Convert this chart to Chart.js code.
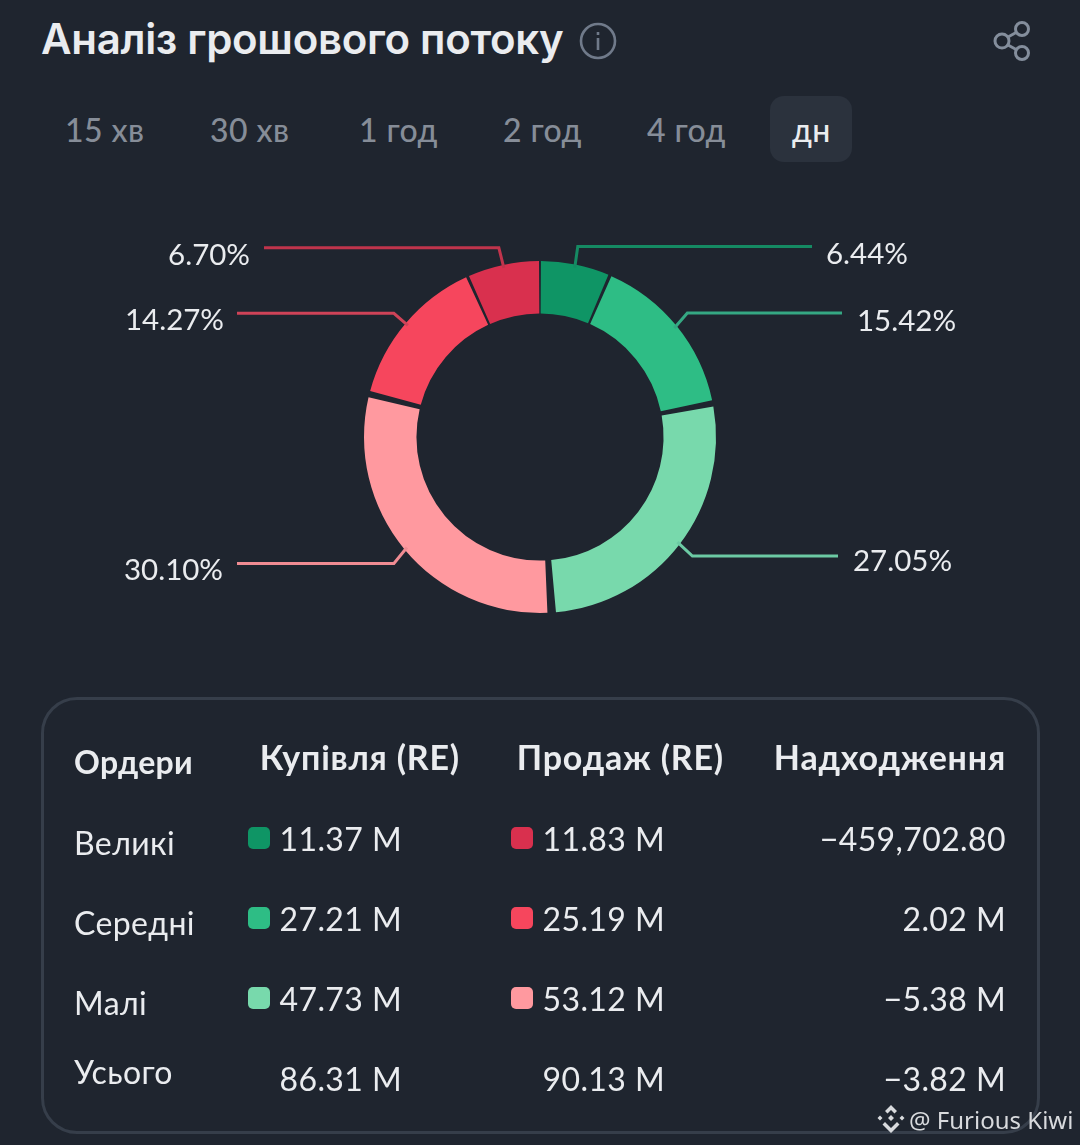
<!DOCTYPE html>
<html lang="uk">
<head>
<meta charset="utf-8">
<title>Аналіз грошового потоку</title>
<script src="https://cdn.jsdelivr.net/npm/chart.js@4/dist/chart.umd.min.js"></script>
<style>
  html, body { margin: 0; padding: 0; background: #1f252f; }
  #page { position: relative; width: 1080px; height: 1145px; overflow: hidden; background: #1f252f; color: #eaecef; font-family: Lato, "Noto Sans", sans-serif; }
  #page > * { position: absolute; }
  .t { position: absolute; white-space: nowrap; line-height: 1; }
  #title { left: 41px; top: 17px; font: 600 42px Inter, sans-serif; letter-spacing: -0.3px; line-height: 44px; }
  .tab { top: 113px; font-size: 32px; color: #868d98; font-weight: 500; letter-spacing: 0.4px; line-height: 34px; white-space: nowrap; }
  #activeTab { left: 770px; top: 96px; width: 82px; height: 66px; border-radius: 14px; background: #2b323d; }
  #chartBox { left: 0; top: 190px; width: 1080px; height: 494px; }
  #tableBox { left: 41px; top: 697px; width: 993px; height: 431px; border: 3px solid #363e4a; border-radius: 36px; }
  #rows, #tabs { left: 0; top: 0; width: 1080px; height: 1145px; }
  .swatch { position: absolute; width: 22px; height: 22px; border-radius: 5px; }
  .head { font-size: 34px; font-weight: 700; letter-spacing: 0.8px; }
  .first { font-size: 32px; font-weight: 700; letter-spacing: 0.3px; }
  .cell { font-size: 32px; letter-spacing: 0.4px; }
  #mark { left: 909px; top: 1103px; font: 24px "Noto Sans", sans-serif; color: #d8dadd; white-space: nowrap; }
</style>
</head>
<body>
<div id="page">
  <div id="title">Аналіз грошового потоку</div>
  <svg style="left:578px;top:21px" width="40" height="40" viewBox="0 0 40 40" fill="none" stroke="#707a8a" stroke-width="2.6">
    <circle cx="20" cy="20" r="17"/><path d="M20 17v12M20 11v3"/>
  </svg>
  <svg style="left:990px;top:20px" width="44" height="42" viewBox="0 0 44 42" fill="none" stroke="#848e9c" stroke-width="3">
    <circle cx="12" cy="21" r="7"/><circle cx="32" cy="9" r="6.5"/><circle cx="32" cy="33" r="6.5"/><path d="M18 17l9-5M18 25l9 5"/>
  </svg>
  <div id="activeTab"></div>
  <div id="tabs"></div>
  <div id="chartBox"><canvas id="flowChart" width="1080" height="494"></canvas></div>
  <div id="tableBox"></div>
  <div id="rows"></div>
  <svg style="left:876px;top:1104px" width="30" height="30" viewBox="0 0 30 30" fill="#d8dadd">
    <path d="M15 1l6 6-2.5 2.5L15 6l-3.500 3.500L9 7zM4 11.500L6.500 14 4 16.500 1.500 14zM26 11.500L28.500 14 26 16.500 23.500 14zM15 11l3 3-3 3-3-3zM9 18l6 6 6-6 2.500 2.500L15 29l-8.500-8.500z"/>
  </svg>
  <div id="mark">@ Furious Kiwi</div>
</div>
<script>
const tabLabels = ['15 хв', '30 хв', '1 год', '2 год', '4 год', 'дн'];

// slices clockwise from the top
const sliceLabels = ['Великі купівля', 'Середні купівля', 'Малі купівля', 'Малі продаж', 'Середні продаж', 'Великі продаж'];
const sliceValues = [6.44, 15.42, 27.05, 30.10, 14.27, 6.70];
const sliceText = ['6.44%', '15.42%', '27.05%', '30.10%', '14.27%', '6.70%'];

const orderNames = ['Великі', 'Середні', 'Малі', 'Усього'];
const buyValues = ['11.37 M', '27.21 M', '47.73 M', '86.31 M'];
const sellValues = ['11.83 M', '25.19 M', '53.12 M', '90.13 M'];
const inflowValues = ['−459,702.80', '2.02 M', '−5.38 M', '−3.82 M'];
const headers = ['Ордери', 'Купівля (RE)', 'Продаж (RE)', 'Надходження'];

const sliceColors = ['#0f9565', '#2ebd85', '#78d9ac', '#ff999f', '#f6465d', '#d9304e'];
const lineColors = ['#158a63', '#35a883', '#6ccaa4', '#f08c93', '#cf4358', '#c0344c'];

// leader line shape per slice: elbow offset from the arc, end x, label spot
const callouts = [
  { dx: 3, dy: -21, endX: 812, labelX: 826, labelY: 64, align: 'left' },
  { dx: 13, dy: -15, endX: 842, labelX: 857, labelY: 131, align: 'left' },
  { dx: 15, dy: 14, endX: 838, labelX: 853, labelY: 371, align: 'left' },
  { dx: -13, dy: 16, endX: 237, labelX: 223, labelY: 380, align: 'right' },
  { dx: -14, dy: -12, endX: 237, labelX: 224, labelY: 130, align: 'right' },
  { dx: -5, dy: -20, endX: 264, labelX: 250, labelY: 65, align: 'right' }
];

const tabX = [65, 210, 359, 503, 647, 792];
tabLabels.forEach((label, i) => {
  const el = document.createElement('div');
  el.className = 'tab';
  el.style.position = 'absolute';
  el.style.left = tabX[i] + 'px';
  el.textContent = label;
  if (label === 'дн') el.style.color = '#eaecef';
  document.getElementById('tabs').appendChild(el);
});

function addText(cls, text, pos) {
  const el = document.createElement('div');
  el.className = 't ' + cls;
  el.textContent = text;
  Object.keys(pos).forEach(k => { el.style[k] = pos[k] + 'px'; });
  document.getElementById('rows').appendChild(el);
}

addText('first', headers[0], { left: 74, top: 746 });
addText('head', headers[1], { right: 620, top: 740 });
addText('head', headers[2], { right: 356, top: 740 });
addText('head', headers[3], { right: 74, top: 740 });

const nameTops = [827, 907, 987, 1056];
const rowTops = [823, 903, 983, 1063];
orderNames.forEach((name, i) => {
  addText('cell', name, { left: 74, top: nameTops[i] });
  addText('cell', buyValues[i], { right: 678, top: rowTops[i] });
  addText('cell', sellValues[i], { right: 415, top: rowTops[i] });
  addText('cell', inflowValues[i], { right: 74, top: rowTops[i] });
  if (i < 3) {
    const buy = document.createElement('div');
    buy.className = 'swatch';
    buy.style.cssText = 'left:248px;top:' + (rowTops[i] + 4) + 'px;background:' + sliceColors[i];
    document.getElementById('rows').appendChild(buy);
    const sell = document.createElement('div');
    sell.className = 'swatch';
    sell.style.cssText = 'left:511px;top:' + (rowTops[i] + 4) + 'px;background:' + sliceColors[5 - i];
    document.getElementById('rows').appendChild(sell);
  }
});

const calloutPlugin = {
  id: 'callouts',
  afterDatasetsDraw(chart) {
    const ctx = chart.ctx;
    chart.getDatasetMeta(0).data.forEach((arc, i) => {
      const p = arc.getProps(['x', 'y', 'startAngle', 'endAngle', 'outerRadius']);
      const mid = (p.startAngle + p.endAngle) / 2;
      const ax = p.x + Math.cos(mid) * (p.outerRadius + 1);
      const ay = p.y + Math.sin(mid) * (p.outerRadius + 1);
      const c = callouts[i];
      ctx.save();
      ctx.strokeStyle = lineColors[i];
      ctx.lineWidth = 3;
      ctx.beginPath();
      ctx.moveTo(ax, ay);
      ctx.lineTo(ax + c.dx, ay + c.dy);
      ctx.lineTo(c.endX, ay + c.dy);
      ctx.stroke();
      ctx.fillStyle = '#eaecef';
      ctx.font = '29.5px Lato, "Noto Sans", sans-serif';
      ctx.textAlign = c.align;
      ctx.textBaseline = 'middle';
      ctx.fillText(sliceText[i], c.labelX, c.labelY);
      ctx.restore();
    });
  }
};

new Chart(document.getElementById('flowChart'), {
  type: 'doughnut',
  data: {
    labels: sliceLabels,
    datasets: [{
      data: sliceValues,
      backgroundColor: sliceColors,
      borderWidth: 0,
      spacing: 8
    }]
  },
  options: {
    responsive: false,
    animation: false,
    radius: 172,
    cutout: '69.5%',
    layout: { padding: 0 },
    plugins: { legend: { display: false }, tooltip: { enabled: false } }
  },
  plugins: [calloutPlugin]
});
</script>
</body>
</html>
